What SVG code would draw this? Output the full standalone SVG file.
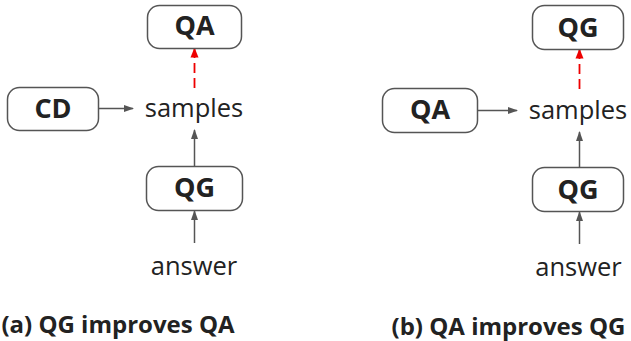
<svg xmlns="http://www.w3.org/2000/svg" width="631" height="341" viewBox="0 0 631 341">
<style>
.box{fill:#fff;stroke:#555;stroke-width:1.5}
.lbl{font-family:"Open Sans","Noto Sans",sans-serif;font-weight:bold;font-size:27px;fill:#222;text-anchor:middle}
.txt{font-family:"Open Sans","Noto Sans",sans-serif;font-size:25.5px;fill:#222;text-anchor:middle}
.cap{font-family:"Open Sans","Noto Sans",sans-serif;font-weight:bold;font-size:24px;fill:#222;text-anchor:middle}
.arr{stroke:#555;stroke-width:1.5;fill:none;marker-end:url(#ag)}
.red{stroke:#e00;stroke-width:1.8;fill:none;stroke-dasharray:10,5;marker-end:url(#ar)}
</style>
<defs>
<marker id="ag" markerUnits="userSpaceOnUse" markerWidth="10" markerHeight="10" viewBox="0 0 10 10" refX="9" refY="5" orient="auto"><path d="M0,1.5 L10,5 L0,8.5 Z" fill="#555"/></marker>
<marker id="ar" markerUnits="userSpaceOnUse" markerWidth="10" markerHeight="10" viewBox="0 0 10 10" refX="9" refY="5" orient="auto"><path d="M0,1 L10,5 L0,9 Z" fill="#e00"/></marker>
</defs>
<rect width="631" height="341" fill="#fff"/>
<g id="connectors">
<line class="arr" x1="99" y1="108.5" x2="133" y2="108.5"/>
<line class="arr" x1="194.5" y1="166" x2="194.5" y2="130"/>
<line class="arr" x1="194.5" y1="243" x2="194.5" y2="211"/>
<line class="red" x1="194.5" y1="88" x2="194.5" y2="48.5"/>
<line class="arr" x1="477" y1="110.5" x2="517" y2="110.5"/>
<line class="arr" x1="579.5" y1="167" x2="579.5" y2="132"/>
<line class="arr" x1="579.5" y1="244" x2="579.5" y2="212"/>
<line class="red" x1="579.5" y1="89" x2="579.5" y2="49.5"/>
</g>
<g id="a-qa"><rect class="box" x="147.5" y="5.5" width="94" height="43" rx="12"/><text class="lbl" x="194.5" y="35">QA</text></g>
<g id="a-cd"><rect class="box" x="7.5" y="87.5" width="91" height="43" rx="12"/><text class="lbl" x="53" y="118">CD</text></g>
<g id="a-samples"><text class="txt" x="194" y="117">samples</text></g>
<g id="a-qg"><rect class="box" x="146.5" y="166.5" width="96" height="44" rx="12"/><text class="lbl" x="194.5" y="197">QG</text></g>
<g id="a-answer"><text class="txt" x="194" y="275">answer</text></g>
<g id="b-qg-top"><rect class="box" x="532.5" y="5.5" width="91" height="44" rx="12"/><text class="lbl" x="578" y="37">QG</text></g>
<g id="b-qa"><rect class="box" x="382.5" y="88.5" width="95" height="44" rx="12"/><text class="lbl" x="430" y="119">QA</text></g>
<g id="b-samples"><text class="txt" x="578" y="119">samples</text></g>
<g id="b-qg"><rect class="box" x="532.5" y="167.5" width="91" height="44" rx="12"/><text class="lbl" x="578" y="199">QG</text></g>
<g id="b-answer"><text class="txt" x="578.5" y="276">answer</text></g>
<text class="cap" x="118" y="333">(a) QG improves QA</text>
<text class="cap" x="508.5" y="335">(b) QA improves QG</text>
</svg>
